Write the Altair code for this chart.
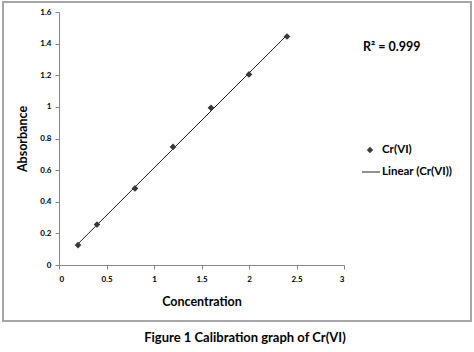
import altair as alt
import pandas as pd

concentration = [0.2, 0.4, 0.8, 1.2, 1.6, 2.0, 2.4]
absorbance = [0.126, 0.256, 0.484, 0.747, 0.994, 1.205, 1.445]
x_ticks = [0, 0.5, 1, 1.5, 2, 2.5, 3]
y_ticks = [0, 0.2, 0.4, 0.6, 0.8, 1.0, 1.2, 1.4, 1.6]
series_name = "Cr(VI)"
trend_name = "Linear (Cr(VI))"
r2_text = "R\u00b2 = 0.999"
caption = "Figure 1 Calibration graph of Cr(VI)"
x_title = "Concentration"
y_title = "Absorbance"

FONT = "Lato"
df = pd.DataFrame({"c": concentration, "a": absorbance})
one = alt.Data(values=[{}])

xenc = alt.X("c:Q", scale=alt.Scale(domain=[0, 3], nice=False),
             axis=alt.Axis(values=x_ticks, format="~g", title=x_title, grid=False,
                           labelFontSize=8, labelFontWeight="bold", labelPadding=6,
                           titleFontSize=12.5, titleFontWeight="bold", titlePadding=12,
                           tickSize=4, domainColor="#868686", tickColor="#868686"))
yenc = alt.Y("a:Q", scale=alt.Scale(domain=[0, 1.6], nice=False),
             axis=alt.Axis(values=y_ticks, format="~g", title=y_title, grid=False,
                           labelFontSize=8, labelFontWeight="bold", labelPadding=4,
                           titleFontSize=12.5, titleFontWeight="bold", titlePadding=10,
                           tickSize=4, domainColor="#868686", tickColor="#868686"))

base = alt.Chart(df)
trend = base.transform_regression("c", "a").mark_line(color="#222222", strokeWidth=1).encode(x=xenc, y=yenc)
points = base.mark_point(shape="diamond", filled=True, color="#3a3a3a", size=45, opacity=1).encode(x=xenc, y=yenc)

frame = alt.Chart(one).mark_rect(filled=False, stroke="#a6a6a6", strokeWidth=2).encode(
    x=alt.value(-56), x2=alt.value(412), y=alt.value(-10), y2=alt.value(309))

r2 = alt.Chart(one).mark_text(text=r2_text, font=FONT, fontSize=12.5, fontWeight="bold",
                              align="left", baseline="middle", color="black").encode(
    x=alt.value(304), y=alt.value(35))

leg_pt = alt.Chart(one).mark_point(shape="diamond", filled=True, color="#3a3a3a", size=40, opacity=1).encode(
    x=alt.value(311), y=alt.value(138))
leg_t1 = alt.Chart(one).mark_text(text=series_name, font=FONT, fontSize=11.5, fontWeight="bold",
                                  align="left", baseline="middle", color="black").encode(
    x=alt.value(323), y=alt.value(138))
leg_ln = alt.Chart(one).mark_rule(color="#222222", strokeWidth=1).encode(
    x=alt.value(303), x2=alt.value(321), y=alt.value(160))
leg_t2 = alt.Chart(one).mark_text(text=trend_name, font=FONT, fontSize=11.5, fontWeight="bold",
                                  align="left", baseline="middle", color="black").encode(
    x=alt.value(323), y=alt.value(160))

cap = alt.Chart(one).mark_text(text=caption, font=FONT, fontSize=13, fontWeight="bold",
                               align="center", baseline="middle", color="black").encode(
    x=alt.value(186), y=alt.value(326))

chart = alt.layer(frame, trend, points, r2, leg_pt, leg_t1, leg_ln, leg_t2, cap).properties(
    width=285, height=253,
    autosize=alt.AutoSizeParams(type="none"),
    padding={"left": 59, "top": 12, "right": 130, "bottom": 87},
).configure(font=FONT).configure_view(stroke=None).configure_axis(
    labelFont=FONT, titleFont=FONT, labelColor="black", titleColor="black")

chart.save("out.html", embed_options={"renderer": "svg", "actions": False})
